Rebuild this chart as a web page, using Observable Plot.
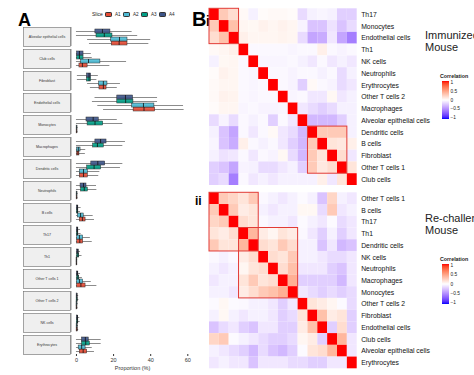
<!DOCTYPE html>
<html><head><meta charset="utf-8">
<script src="https://cdn.jsdelivr.net/npm/d3@7"></script>
<script src="https://cdn.jsdelivr.net/npm/@observablehq/plot@0.6"></script>
<style>
body{margin:0;background:#fff;}
#root{position:relative;width:474px;height:375px;overflow:hidden;background:#fff;font-family:"Liberation Sans",Arial,sans-serif;color:#000;}
.abs{position:absolute;white-space:nowrap;}
.abs svg{display:block;}
</style></head><body><div id="root"></div>
<script>
// ---------- Panel A data ----------
const cellTypes = ["Alveolar epithelial cells","Club cells","Fibroblast","Endothelial cells","Monocytes","Macrophages","Dendritic cells","Neutrophils","B cells","Th17","Th1","Other T cells 1","Other T cells 2","NK cells","Erythrocytes"];
const slices = ["A1","A2","A3","A4"];
const sliceColors = ["#E64B35","#4DBBD5","#00A087","#3C5488"];
// [lower whisker, Q1, median, Q3, upper whisker] per cell type
const statsA1 = [[7,19,23,27.5,39],[0,1.6,3.2,6,18],[7.5,12.4,14.5,16.2,22],[14.6,30.8,36.4,42.4,58],[0,0.1,0.2,0.4,0.8],[0,0.3,0.8,1.6,4.8],[0,1.8,3.8,6.1,12],[0,0.1,0.2,0.4,0.8],[0,1.8,3.2,4.9,9.7],[0,0.4,1.8,3.6,8.5],[0,0.05,0.1,0.2,0.5],[0,0.3,2.4,4.9,11],[0,0.05,0.15,0.3,0.8],[0,0.1,0.3,0.6,1.2],[0,1.8,3.6,5.8,9.7]];
const statsA2 = [[6,18.7,23.2,27.5,40],[0,2.5,6.5,12.9,27],[6,12.2,14.5,16.7,23.7],[11.5,30,36.1,42,57.7],[0,0.1,0.2,0.4,0.9],[0,0.3,1,2.2,5],[0,1.8,3.8,6.1,12.6],[0,0.1,0.2,0.4,0.9],[0,0.7,2.2,3.9,9],[0,0.4,1.6,3.6,7.5],[0,0.05,0.1,0.2,0.6],[0,0.3,1.6,3.6,8],[0,0.05,0.2,0.4,0.9],[0,0.1,0.3,0.5,1.1],[0,1.2,2.8,4.9,8.5]];
const statsA3 = [[0,10.8,15,19.4,33],[0,0.3,1.6,3.8,8.5],[0.5,5.7,6.8,7.9,11],[8.6,22,26.5,30.7,43.7],[0,6,10,14.4,25],[0,9,11.3,14.7,25],[0,5.8,9.5,13.3,23.7],[0,2.5,4.2,6.1,11],[0,0.2,0.5,1,2.2],[0,0.2,0.5,1,2.5],[0,0.3,0.8,1.5,3],[0,0.3,0.8,1.5,3.2],[0,0.1,0.3,0.6,1.3],[0,0.2,0.5,1,2],[0,3,5,7.2,13.3]];
const statsA4 = [[0,10.2,14,18.3,30],[0,0.3,1.6,3.8,8],[0.5,5.7,6.8,7.9,11.8],[10,22,26.4,30.5,43.7],[0,5.4,9,12,22],[0,10.2,13,16.2,26.4],[0,8,11.5,15.5,25],[0,2.2,3.8,5.4,10.8],[0,0.2,0.5,1,2.5],[0,0.2,0.5,1,2.2],[0,0.3,0.7,1.2,2.2],[0,0.2,0.5,1,2.2],[0,0.1,0.3,0.5,1.2],[0,0.2,0.5,0.9,1.8],[0,3,4.8,6.6,13.3]];
const edgeDashX = [60.2, 63.1];
const xTicks = [0, 20, 40, 60];

// ---------- Panel B data ----------
const immunizedOrder = ["Th17","Monocytes","Endothelial cells","Th1","NK cells","Neutrophils","Erythrocytes","Other T cells 2","Macrophages","Alveolar epithelial cells","Dendritic cells","B cells","Fibroblast","Other T cells 1","Club cells"];
// lower triangle incl. diagonal
const immunizedCorr = [
 [1],
 [0.28,1],
 [0.18,0.33,1],
 [0.03,0.05,0.08,1],
 [-0.06,0.04,0.05,-0.03,1],
 [0.02,0.07,0.05,-0.03,-0.04,1],
 [0.03,0.05,0.05,-0.03,-0.04,-0.03,1],
 [0.03,0.07,0.06,-0.03,-0.04,-0.03,-0.03,1],
 [0.02,0.05,0.05,-0.04,-0.03,-0.05,-0.05,-0.04,1],
 [-0.15,-0.05,-0.15,-0.03,-0.06,-0.03,-0.2,-0.03,-0.1,1],
 [-0.06,-0.25,-0.38,-0.03,-0.1,-0.03,0.03,-0.1,-0.15,-0.3,1],
 [-0.04,-0.25,-0.35,0.08,-0.03,-0.06,-0.03,-0.1,-0.2,-0.3,0.28,1],
 [-0.06,-0.12,-0.1,-0.03,-0.1,-0.03,-0.05,0.04,-0.15,-0.3,0.28,0.14,1],
 [-0.2,-0.25,-0.38,-0.05,-0.06,-0.15,-0.15,-0.1,-0.06,-0.2,0.28,0.12,0.18,1],
 [-0.2,-0.15,-0.55,-0.03,-0.1,-0.06,-0.1,-0.06,-0.06,-0.06,-0.06,0.08,-0.1,0.14,1]
];
const immunizedClusters = [[0,3],[10,14]];
const rechallengedOrder = ["Other T cells 1","B cells","Th17","Th1","Dendritic cells","NK cells","Neutrophils","Macrophages","Monocytes","Other T cells 2","Fibroblast","Endothelial cells","Club cells","Alveolar epithelial cells","Erythrocytes"];
const rechallengedCorr = [
 [1],
 [0.28,1],
 [0.22,0.28,1],
 [0.14,0.1,0.18,1],
 [0.28,0.14,0.14,0.38,1],
 [-0.03,-0.06,-0.03,0.1,0.18,1],
 [-0.06,-0.1,-0.06,0.05,0.14,0.18,1],
 [-0.1,-0.06,-0.06,0.14,0.28,0.14,0.18,1],
 [-0.06,-0.06,-0.1,0.1,0.18,0.28,0.33,0.42,1],
 [-0.02,0.04,-0.02,-0.03,-0.06,-0.06,-0.1,-0.2,-0.1,1],
 [-0.06,0.04,-0.06,-0.1,-0.06,-0.06,-0.1,-0.2,-0.15,0.14,1],
 [-0.25,-0.15,-0.1,-0.2,-0.25,-0.1,-0.1,-0.2,-0.2,0.1,0.33,1],
 [0.22,0.28,-0.02,-0.06,-0.1,-0.15,-0.2,-0.2,-0.15,0.05,0.1,-0.2,1],
 [-0.06,-0.1,-0.15,-0.2,-0.3,-0.15,-0.25,-0.3,-0.2,-0.02,0.14,0.18,0.38,1],
 [-0.1,-0.06,-0.1,-0.1,-0.25,-0.1,-0.1,-0.1,-0.15,-0.15,-0.2,-0.2,-0.1,-0.1,1]
];
const rechallengedClusters = [[0,5],[3,9]];
const legendTicks = [1, 0.5, 0, -0.5, -1];

// ---------- build ----------
const root = document.getElementById("root");
function place(node, left, top, width) {
  const d = document.createElement("div");
  d.className = "abs";
  d.style.left = left + "px"; d.style.top = top + "px";
  if (width) d.style.width = width + "px";
  d.appendChild(node); root.appendChild(d); return d;
}
function textDiv(txt, left, top, css) {
  const d = document.createElement("div");
  d.className = "abs"; d.textContent = txt;
  d.style.left = left + "px"; d.style.top = top + "px";
  Object.assign(d.style, css || {});
  root.appendChild(d); return d;
}

const sliceStats = {A1: statsA1, A2: statsA2, A3: statsA3, A4: statsA4};
const boxRows = cellTypes.flatMap((c, i) => slices.map(s => {
  const v = sliceStats[s][i];
  return {cell: c, slice: s, lo: v[0], q1: v[1], med: v[2], q3: v[3], hi: v[4]};
}));

const xDomain = [-3, 63.5];
const fyOpts = {domain: cellTypes, axis: null, paddingInner: 0.13, paddingOuter: 0};

const boxPlot = Plot.plot({
  width: 140, height: 355, marginLeft: 10.4, marginRight: 6.2, marginTop: 5, marginBottom: 18,
  style: {background: "transparent", fontFamily: "Liberation Sans, Arial, sans-serif"},
  x: {domain: xDomain},
  y: {domain: ["A4","A3","A2","A1"], axis: null, paddingInner: 0.12, paddingOuter: 0.3},
  fy: fyOpts,
  color: {domain: slices, range: sliceColors},
  marks: [
    Plot.ruleX([xDomain[0]], {stroke: "#333", strokeWidth: 0.7}),
    Plot.ruleY(boxRows, {fy: "cell", y: "slice", x1: "lo", x2: "hi", stroke: "#6e6e6e", strokeWidth: 0.8}),
    Plot.barX(boxRows, {fy: "cell", y: "slice", x1: "q1", x2: "q3", fill: "slice", fillOpacity: 0.9, stroke: "#2b2b2b", strokeWidth: 0.5}),
    Plot.tickX(boxRows, {fy: "cell", y: "slice", x: "med", stroke: "#111", strokeWidth: 0.8}),
    Plot.ruleY(cellTypes, {fy: d => d, x1: edgeDashX[0], x2: edgeDashX[1], stroke: "#555", strokeWidth: 0.8}),
    Plot.axisX({ticks: xTicks, tickSize: 2, tickPadding: 1.5, fontSize: 5.5, fill: "#333", line: true, stroke: "#333",
      label: "Proportion (%)", labelAnchor: "center", labelArrow: "none", labelOffset: 15})
  ]
});
place(boxPlot, 60, 20, 140);

const stripPlot = Plot.plot({
  width: 49, height: 355, marginLeft: 1, marginRight: 1, marginTop: 5, marginBottom: 18,
  style: {background: "transparent", fontFamily: "Liberation Sans, Arial, sans-serif"},
  fy: fyOpts,
  marks: [
    Plot.frame({fill: "#efefef", stroke: "#6a6a6a", strokeWidth: 0.6}),
    Plot.text(cellTypes, {fy: d => d, text: d => d, frameAnchor: "middle", fontSize: 3.6, fill: "#333"})
  ]
});
place(stripPlot, 22, 20, 49);

// Panel A legend
textDiv("Slice", 92, 12, {fontSize: "5px", lineHeight: "5px", color: "#222"});
slices.forEach((s, k) => {
  const sw = document.createElement("div");
  sw.className = "abs";
  Object.assign(sw.style, {left: (105 + 18 * k) + "px", top: "12.2px", width: "6.5px", height: "4.6px",
    background: sliceColors[k], border: "0.5px solid #333", borderRadius: "1.2px", boxSizing: "border-box"});
  root.appendChild(sw);
  textDiv(s, 115 + 18 * k, 12, {fontSize: "4.6px", lineHeight: "5px", color: "#222"});
});

// Panel labels
textDiv("A", 18, 10.8, {fontSize: "18px", lineHeight: "18px", fontWeight: "bold"});
textDiv("B", 192, 9, {fontSize: "20px", lineHeight: "20px", fontWeight: "bold"});
textDiv("i", 206, 13.5, {fontSize: "14px", lineHeight: "14px", fontWeight: "bold"});
textDiv("ii", 195, 194.8, {fontSize: "12px", lineHeight: "12px", fontWeight: "bold"});

// Heatmaps
const colorOpts = {type: "linear", domain: [-1, 0, 1], range: ["#0000ff", "#ffffff", "#ff0000"], interpolate: "lab"};
function heatmap(names, tri, clusters, mt, mb) {
  const cells = [];
  names.forEach((rn, i) => names.forEach((cn, j) => {
    cells.push({row: i, col: j, v: i >= j ? tri[i][j] : tri[j][i]});
  }));
  return Plot.plot({
    width: 269, height: 190, marginLeft: 4, marginRight: 117.3, marginTop: mt, marginBottom: mb,
    style: {background: "transparent", fontFamily: "Liberation Sans, Arial, sans-serif"},
    x: {domain: [0, names.length], axis: null},
    y: {domain: [0, names.length], reverse: true, axis: null},
    color: colorOpts,
    marks: [
      Plot.rect(cells, {x1: "col", x2: d => d.col + 1, y1: "row", y2: d => d.row + 1, fill: "v"}),
      Plot.rect(clusters, {x1: d => d[0], x2: d => d[1], y1: d => d[0], y2: d => d[1], fill: "none", stroke: "#e23b36", strokeWidth: 1}),
      Plot.axisY({anchor: "right", ticks: names.map((n, k) => k + 0.5), tickFormat: t => names[Math.floor(t)],
        tickSize: 0, tickPadding: 4, fontSize: 6.8, fill: "#111", label: null})
    ]
  });
}
place(heatmap(immunizedOrder, immunizedCorr, immunizedClusters, 8.3, 5), 205, 0, 269);
place(heatmap(rechallengedOrder, rechallengedCorr, rechallengedClusters, 7.3, 6.7), 205, 185, 269);

// Group titles
const titleCss = {fontSize: "11px", lineHeight: "11px", color: "#222"};
textDiv("Immunized", 425, 29.5, titleCss);
textDiv("Mouse", 425, 41.5, titleCss);
textDiv("Re-challenged", 425, 213, titleCss);
textDiv("Mouse", 425, 225, titleCss);

// Correlation legends
function corrLegend(titleTop, barTop, barH) {
  textDiv("Correlation", 440, titleTop, {fontSize: "5.3px", lineHeight: "6px", fontWeight: "bold", color: "#222"});
  const bar = document.createElement("div");
  bar.className = "abs";
  const grad = d3.range(0, 1.0001, 0.05).map(t => {
    const v = 1 - 2 * t;
    const c = v >= 0 ? d3.interpolateLab("#ffffff", "#ff0000")(v) : d3.interpolateLab("#ffffff", "#0000ff")(-v);
    return c + " " + (t * 100).toFixed(1) + "%";
  }).join(",");
  Object.assign(bar.style, {left: "442px", top: barTop + "px", width: "7px", height: barH + "px",
    background: "linear-gradient(to bottom," + grad + ")"});
  root.appendChild(bar);
  legendTicks.forEach(v => {
    const y = barTop + 1.5 + (1 - v) / 2 * (barH - 3);
    textDiv(v < 0 ? "\u2212" + Math.abs(v) : String(v), 450.5, y - 2.5, {fontSize: "4.8px", lineHeight: "5px", color: "#222"});
  });
}
corrLegend(73, 81, 38);
corrLegend(256, 264, 40);
</script></body></html>
